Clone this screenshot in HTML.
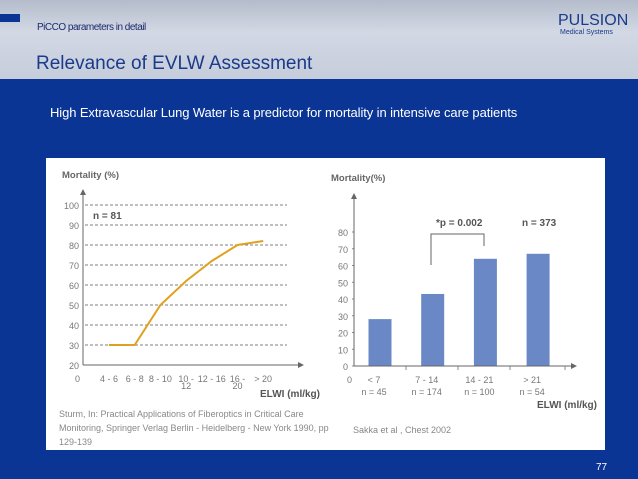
<!DOCTYPE html>
<html><head><meta charset="utf-8"><style>
body{margin:0;width:638px;height:479px;overflow:hidden;font-family:"Liberation Sans",sans-serif;position:relative;background:#0a3595}
.hdr{position:absolute;left:0;top:0;width:638px;height:79px;background:linear-gradient(#b4bccb,#d2d8e4 40%,#c6cddb)}
svg text{font-family:"Liberation Sans",sans-serif}
</style></head><body>
<div class="hdr"></div>
<div style="position:absolute;left:0;top:14px;width:20px;height:8px;background:#0a3595"></div>
<div style="position:absolute;left:37px;top:22px;font-size:10px;color:#1a2a6a;letter-spacing:-0.5px">PiCCO parameters in detail</div>
<div style="position:absolute;left:558px;top:12px;font-size:16px;color:#1a3a8a">PULSION</div>
<div style="position:absolute;left:560px;top:29px;font-size:7px;color:#1a3a8a">Medical Systems</div>
<div style="position:absolute;left:36px;top:53px;font-size:19px;color:#1a3a8a">Relevance of EVLW Assessment</div>
<div style="position:absolute;left:50px;top:105px;font-size:13px;color:#fff;letter-spacing:-0.1px">High Extravascular Lung Water is a predictor for mortality in intensive care patients</div>
<div style="position:absolute;left:596px;top:462px;font-size:10px;color:#fff">77</div>
<svg style="position:absolute;left:0;top:0" width="638" height="479" id="s">
<rect x="46" y="158" width="559" height="292" fill="#fff"/>
</svg>
<script>
const lineCats=["4 - 6","6 - 8","8 - 10","10 -","12 - 16","16 -","> 20"];
const lineVals=[30,30,50,62,72,80,82];
const lineTicks=[20,30,40,50,60,70,80,90,100];
const barCats=["< 7","7 - 14","14 - 21","> 21"];
const barNs=["n = 45","n = 174","n = 100","n = 54"];
const barVals=[28,43,64,67];
const barTicks=[0,10,20,30,40,50,60,70,80];
const s=document.getElementById('s');
function el(t,a,txt){const e=document.createElementNS('http://www.w3.org/2000/svg',t);for(const k in a)e.setAttribute(k,a[k]);if(txt!=null)e.textContent=txt;s.appendChild(e);return e;}
const ly=v=>365-(v-20)*2, lx=i=>109+i*25.7;
let e;
for(const t of lineTicks){
 if(t>20){e=el('line',{x1:85,x2:287,y1:ly(t),y2:ly(t),stroke:'#555','stroke-dasharray':'3,2','stroke-width':0.7});
 }
 e=el('text',{x:79,y:ly(t)+4,'font-size':9,fill:'#777','text-anchor':'end'},t);
 
}
el('line',{x1:83,x2:83,y1:365,y2:192,stroke:'#666'});
el('path',{d:'M80,195 L83,189 L86,195Z',fill:'#666'});
el('line',{x1:83,x2:300,y1:365,y2:365,stroke:'#666'});
el('path',{d:'M298,362 L304,365 L298,368Z',fill:'#666'});
el('text',{x:80,y:382,'font-size':9,fill:'#777','text-anchor':'end'},'0');
lineCats.forEach((c,i)=>{
 e=el('text',{x:lx(i),y:382,'font-size':9,fill:'#777','text-anchor':'middle'},c);
 
});
el('text',{x:lx(3),y:389,'font-size':9,fill:'#777','text-anchor':'middle'},'12');
el('text',{x:lx(5),y:389,'font-size':9,fill:'#777','text-anchor':'middle'},'20');
e=el('polyline',{points:lineVals.map((v,i)=>lx(i)+','+ly(v)).join(' '),fill:'none',stroke:'#e0a020','stroke-width':2});

el('text',{x:62,y:178,'font-size':9.5,fill:'#666','font-weight':'bold'},'Mortality (%)');
el('text',{x:93,y:219,'font-size':10,fill:'#555','font-weight':'bold'},'n = 81');
el('text',{x:260,y:397,'font-size':10,fill:'#555','font-weight':'bold'},'ELWI (ml/kg)');
['Sturm, In: Practical Applications of Fiberoptics in Critical Care','Monitoring, Springer Verlag Berlin - Heidelberg - New York 1990, pp','129-139'].forEach((t,i)=>el('text',{x:59,y:417+i*14,'font-size':9,fill:'#888'},t));
const by=v=>366-v*1.675, bx=i=>380+i*52.7;
for(const t of barTicks){
 e=el('text',{x:348,y:by(t)+4,'font-size':9,fill:'#777','text-anchor':'end'},t);
 
 el('line',{x1:352,x2:354,y1:by(t),y2:by(t),stroke:'#888'});
}
barVals.forEach((v,i)=>{
 e=el('rect',{x:bx(i)-11.5,y:by(v),width:23,height:366-by(v),fill:'#6a88c6'});
 
});
el('line',{x1:354,x2:354,y1:366,y2:196,stroke:'#666'});
el('path',{d:'M351,199 L354,193 L357,199Z',fill:'#666'});
el('line',{x1:354,x2:573,y1:366,y2:366,stroke:'#666'});
el('path',{d:'M571,363 L577,366 L571,369Z',fill:'#666'});
[406,458,510,565].forEach(x=>el('line',{x1:x,x2:x,y1:366,y2:370,stroke:'#888'}));
el('text',{x:352,y:383,'font-size':9,fill:'#777','text-anchor':'end'},'0');
barCats.forEach((c,i)=>{
 e=el('text',{x:bx(i)-6,y:383,'font-size':9,fill:'#777','text-anchor':'middle'},c);
 
 el('text',{x:bx(i)-6,y:395,'font-size':9,fill:'#777','text-anchor':'middle'},barNs[i]);
});
el('text',{x:331,y:181,'font-size':9.5,fill:'#666','font-weight':'bold'},'Mortality(%)');
el('text',{x:436,y:226,'font-size':10,fill:'#555','font-weight':'bold'},'*p = 0.002');
el('text',{x:522,y:226,'font-size':10,fill:'#555','font-weight':'bold'},'n = 373');
el('path',{d:'M431,265 V234 H484 V246',fill:'none',stroke:'#666'});
el('text',{x:537,y:408,'font-size':10,fill:'#555','font-weight':'bold'},'ELWI (ml/kg)');
el('text',{x:353,y:433,'font-size':9,fill:'#888'},'Sakka et al , Chest 2002');
</script>
</body></html>
